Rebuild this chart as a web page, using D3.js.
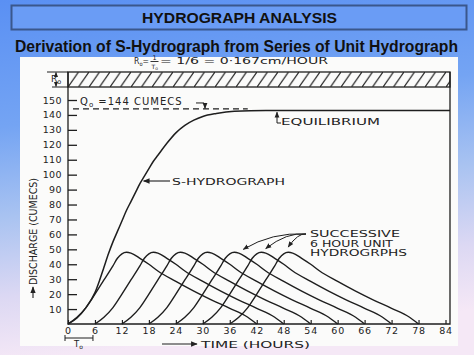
<!DOCTYPE html>
<html><head><meta charset="utf-8">
<script src="https://cdn.jsdelivr.net/npm/d3@7"></script>
<style>
html,body{margin:0;padding:0;background:#fff;}
body{width:474px;height:355px;overflow:hidden;}
text{font-family:"DejaVu Sans",sans-serif;fill:#222;}
</style></head><body>
<svg id="c" width="474" height="355"></svg>
<script>
// ---------- data ----------
const titleText = "HYDROGRAPH ANALYSIS";
const subtitleText = "Derivation of S-Hydrograph from Series of Unit Hydrograph";
const yTickValues = [10,20,30,40,50,60,70,80,90,100,110,120,130,140,150];
const xTickValues = [0,6,12,18,24,30,36,42,48,54,60,66,72,78,84];
// 6-hour unit hydrograph ordinates (time since start, hours / discharge, cumecs)
const uhTime = [0,2,4,6,8,10,11,12,13,14,16,18,20,24,28,32,36,40,42];
const uhFlow = [0,4.5,11,20,29.5,39,44,47,48,47.5,44,40,35.5,28.5,22,16,10.5,4.5,0];
// start times of the successive unit hydrographs
const uhStarts = [0,6,12,18,24,30,36];
// S-hydrograph
const sTime = [0,2,4,6,7,8,9,10,11,12,13,14,15,16,17,18,19,20,22,24,26,28,30,33,37,44,60,85];
const sFlow = [0,4,11,21,29,38,47,55,62,69,76,82,88,94,99,104,109,113,121,128,133,136.5,139,141,142.5,143,143,143];
const equilibriumQ = 144;
const dashEndTime = 40;

// ---------- setup ----------
const svg = d3.select("#c");
const defs = svg.append("defs");
const bg = defs.append("linearGradient").attr("id","bg").attr("x1",0).attr("y1",0).attr("x2",0.15).attr("y2",1);
[[0,"#5a90f3"],[0.35,"#74a4f3"],[0.6,"#a9c3f1"],[0.82,"#dcd8f3"],[1,"#f5e8f6"]].forEach(s=>bg.append("stop").attr("offset",s[0]).attr("stop-color",s[1]));
const hatch = defs.append("pattern").attr("id","hatch").attr("patternUnits","userSpaceOnUse")
  .attr("width",10.5).attr("height",15).attr("patternTransform","translate(68,72)");
hatch.append("line").attr("x1",0).attr("y1",15).attr("x2",10.5).attr("y2",0).attr("stroke","#222").attr("stroke-width",1.2);
defs.append("marker").attr("id","ah").attr("viewBox","0 0 10 10").attr("refX",9).attr("refY",5)
  .attr("markerWidth",6).attr("markerHeight",6).attr("orient","auto-start-reverse")
  .append("path").attr("d","M0,1 L10,5 L0,9 z").attr("fill","#222");

svg.append("rect").attr("width",474).attr("height",355).attr("fill","url(#bg)");

// title box
svg.append("rect").attr("x",11.5).attr("y",5.5).attr("width",455).attr("height",24)
  .attr("fill","#6a9cf5").attr("stroke","#3a578c").attr("stroke-width",2);
svg.append("text").attr("x",239.5).attr("y",22.5).attr("text-anchor","middle")
  .attr("textLength",195).attr("lengthAdjust","spacingAndGlyphs")
  .style("font-family","'Liberation Sans',Arial,sans-serif").style("font-weight","bold").style("font-size","15px").style("fill","#111")
  .text(titleText);
svg.append("text").attr("x",236.5).attr("y",52).attr("text-anchor","middle")
  .attr("textLength",443).attr("lengthAdjust","spacingAndGlyphs")
  .style("font-family","'Liberation Sans',Arial,sans-serif").style("font-weight","bold").style("font-size","16px").style("fill","#111")
  .text(subtitleText);

// white panel
svg.append("rect").attr("x",20).attr("y",57).attr("width",438).attr("height",289).attr("fill","#fbfbfa");

// ---------- scales ----------
const x = d3.scaleLinear().domain([0,85]).range([68,450]);
const y = d3.scaleLinear().domain([0,150]).range([324,100]);
const ink = "#1e1e1e";
const g = svg.append("g");

// hatched R0 strip and frame
const stripTop = 72, stripBottom = 87;
g.append("rect").attr("x",x(0)).attr("y",stripTop).attr("width",x(85)-x(0)).attr("height",stripBottom-stripTop)
  .attr("fill","url(#hatch)").attr("stroke",ink).attr("stroke-width",1.3);
g.append("path").attr("d",`M${x(0)},${stripTop}V${y(0)}H${x(85)}V${stripTop}`).attr("fill","none").attr("stroke",ink).attr("stroke-width",1.3);

// axes
const yAxis = g.append("g").attr("transform",`translate(${x(0)},0)`)
  .call(d3.axisLeft(y).tickValues(yTickValues).tickSizeInner(-9).tickSizeOuter(0).tickPadding(6));
yAxis.select(".domain").remove();
yAxis.selectAll("line").attr("stroke",ink).attr("stroke-width",1.3);
yAxis.selectAll("text").style("font-family","'DejaVu Sans',sans-serif").style("font-size","9.5px").style("letter-spacing","0.4px").attr("fill","#222");

const xAxis = g.append("g").attr("transform",`translate(0,${y(0)})`)
  .call(d3.axisBottom(x).tickValues(xTickValues).tickSizeInner(-4).tickSizeOuter(0).tickPadding(3));
xAxis.select(".domain").remove();
xAxis.selectAll("line").attr("stroke",ink).attr("stroke-width",1.2);
xAxis.selectAll("text").style("font-family","'DejaVu Sans',sans-serif").style("font-size","9.5px").style("letter-spacing","0.8px").attr("fill","#222");

// equilibrium dashed line
g.append("line").attr("x1",x(0)+5).attr("x2",x(dashEndTime)).attr("y1",y(equilibriumQ)).attr("y2",y(equilibriumQ))
  .attr("stroke",ink).attr("stroke-width",1.2).attr("stroke-dasharray","6,4");

// unit hydrographs
const line = d3.line().x(d=>x(d[0])).y(d=>y(d[1])).curve(d3.curveMonotoneX);
uhStarts.forEach(s=>{
  const pts = uhTime.map((t,i)=>[t+s, uhFlow[i]]);
  g.append("path").attr("d",line(pts)).attr("fill","none").attr("stroke",ink).attr("stroke-width",1.4);
});
// S-hydrograph
g.append("path").attr("d",line(sTime.map((t,i)=>[t,sFlow[i]]))).attr("fill","none").attr("stroke",ink).attr("stroke-width",1.5);

// ---------- annotations ----------
const lab = (xx,yy,txt,size,len)=>{
  const t = g.append("text").attr("x",xx).attr("y",yy).style("font-size",size+"px").text(txt);
  if(len) t.attr("textLength",len).attr("lengthAdjust","spacingAndGlyphs");
  return t;
};
// top formula
const f = g.append("text").attr("x",134).attr("y",64).style("font-size","9px")
  .attr("textLength",15).attr("lengthAdjust","spacingAndGlyphs");
f.append("tspan").text("R");
f.append("tspan").attr("dy",2).style("font-size","6px").text("o");
f.append("tspan").attr("dy",-2).text("=");
lab(152.5,59.5,"1",6.5);
g.append("line").attr("x1",150.5).attr("x2",158.5).attr("y1",61.5).attr("y2",61.5).attr("stroke",ink).attr("stroke-width",0.9);
const tf = g.append("text").attr("x",151.5).attr("y",68.5).style("font-size","6px");
tf.append("tspan").text("T"); tf.append("tspan").attr("dy",1).style("font-size","4.5px").text("o");
lab(160,64,"= 1/6 = 0·167cm/HOUR",9.5,168);

// R0 dimension
g.append("line").attr("x1",47).attr("x2",x(0)).attr("y1",stripTop).attr("y2",stripTop).attr("stroke",ink).attr("stroke-width",1);
g.append("line").attr("x1",52).attr("x2",x(0)).attr("y1",stripBottom).attr("y2",stripBottom).attr("stroke",ink).attr("stroke-width",1);
g.append("line").attr("x1",56).attr("x2",56).attr("y1",76).attr("y2",stripTop+0.5).attr("stroke",ink).attr("stroke-width",0.9).attr("marker-end","url(#ah)");
g.append("line").attr("x1",56).attr("x2",56).attr("y1",84).attr("y2",stripBottom-0.5).attr("stroke",ink).attr("stroke-width",0.9).attr("marker-end","url(#ah)");
const r0 = g.append("text").attr("x",51).attr("y",82).style("font-size","9px");
r0.append("tspan").text("R"); r0.append("tspan").attr("dy",1.5).style("font-size","6.5px").text("o");

// Q0 label
const q0 = g.append("text").attr("x",80).attr("y",y(equilibriumQ)-3.5).style("font-size","10px").style("letter-spacing","1px");
q0.append("tspan").text("Q");
q0.append("tspan").attr("dy",1.5).style("font-size","7px").text("o");
q0.append("tspan").attr("dy",-1.5).text(" =144 CUMECS");
g.append("line").attr("x1",196).attr("x2",204).attr("y1",y(equilibriumQ)-6).attr("y2",y(equilibriumQ)-6).attr("stroke",ink).attr("stroke-width",1);
g.append("line").attr("x1",205).attr("x2",205).attr("y1",y(equilibriumQ)-6).attr("y2",y(equilibriumQ)-0.5).attr("stroke",ink).attr("stroke-width",1).attr("marker-end","url(#ah)");

// equilibrium
g.append("path").attr("d",`M281,123H277V${y(142.5)+1}`).attr("fill","none").attr("stroke",ink).attr("stroke-width",1).attr("marker-end","url(#ah)");
lab(281,125,"EQUILIBRIUM",9.5,99);

// S-hydrograph label
g.append("line").attr("x1",170).attr("x2",x(16.6)+1).attr("y1",181).attr("y2",181).attr("stroke",ink).attr("stroke-width",1.1).attr("marker-end","url(#ah)");
lab(172,185,"S-HYDROGRAPH",9.5,113);

// successive UH labels
lab(310,237,"SUCCESSIVE",8.5,90);
lab(310,246.5,"6 HOUR UNIT",8.5,83);
lab(310,256,"HYDROGRPHS",8.5,97);
[[39,50,272,236],[44,50.5,287,236],[49,51.5,298,237]].forEach(a=>{
  const ex = x(a[0]), ey = y(a[1]);
  g.append("path").attr("d",`M306,234 Q${a[2]},${a[3]-4} ${ex},${ey}`).attr("fill","none").attr("stroke",ink).attr("stroke-width",1).attr("marker-end","url(#ah)");
});

// T0 bracket
const by = 338;
g.append("line").attr("x1",x(0)-3).attr("x2",x(6)-2).attr("y1",by).attr("y2",by).attr("stroke",ink).attr("stroke-width",1);
[x(0)-3,x(6)-2].forEach(v=>g.append("line").attr("x1",v).attr("x2",v).attr("y1",by-3).attr("y2",by+3).attr("stroke",ink).attr("stroke-width",1));
const t0 = g.append("text").attr("x",74).attr("y",347).style("font-size","8.5px");
t0.append("tspan").text("T"); t0.append("tspan").attr("dy",1.5).style("font-size","6px").text("o");

// time axis title
g.append("line").attr("x1",162).attr("x2",197).attr("y1",344).attr("y2",344).attr("stroke",ink).attr("stroke-width",1.1).attr("marker-end","url(#ah)");
lab(201,348,"TIME (HOURS)",9.5,109);

// discharge axis title
g.append("line").attr("x1",33).attr("x2",33).attr("y1",298).attr("y2",287).attr("stroke",ink).attr("stroke-width",1.1).attr("marker-end","url(#ah)");
g.append("text").attr("transform","translate(37,285) rotate(-90)").attr("x",0).attr("y",0)
  .attr("textLength",107).attr("lengthAdjust","spacingAndGlyphs").style("font-size","10px")
  .text("DISCHARGE (CUMECS)");
</script>
</body></html>
